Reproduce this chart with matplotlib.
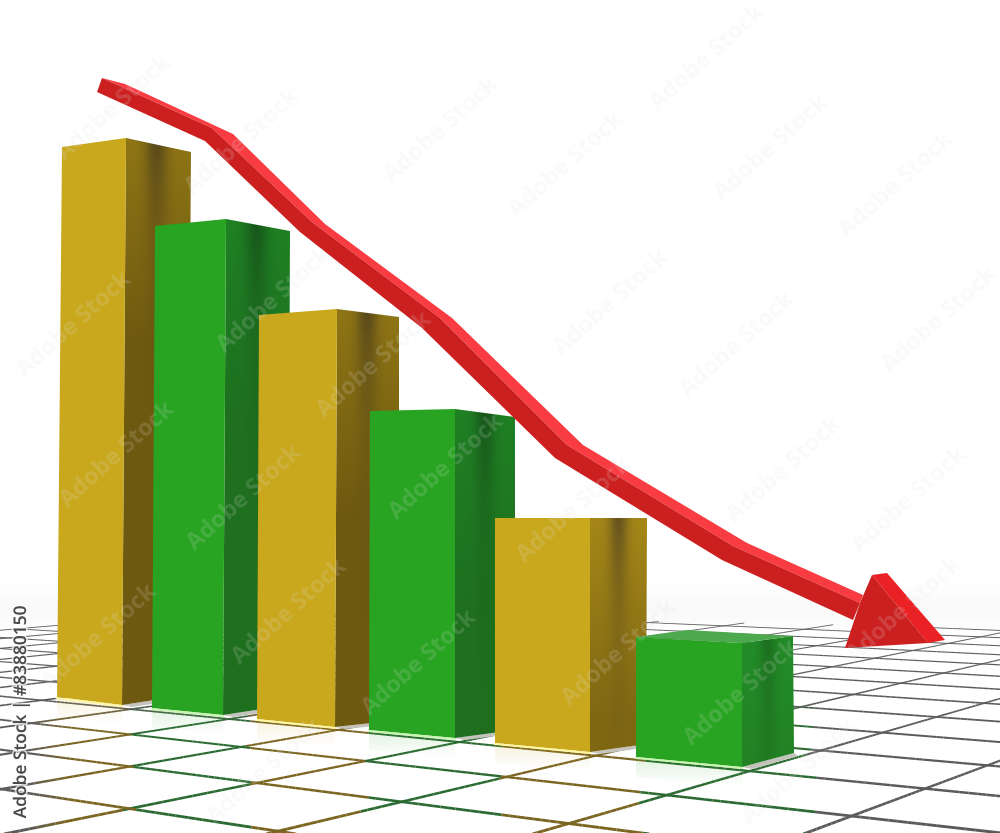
import matplotlib
matplotlib.use("Agg")
import matplotlib.pyplot as plt
import matplotlib.patheffects as pe
from matplotlib.collections import LineCollection
from matplotlib.colors import to_rgb
from matplotlib.patches import Polygon
import numpy as np

# values (pixels)
bar_heights = [567, 496, 418, 329, 234, 124]
bar_kinds = ["y", "g", "y", "g", "y", "g"]

# red arrow, upper edge / edge between faces / lower edge
arrow_top_x = [102, 125, 233, 325, 452, 583, 747, 863]
arrow_top_y = [78, 84, 134, 224, 318, 445, 543, 595]
arrow_mid_x = [102, 212, 312, 440, 567, 733, 860]
arrow_mid_y = [78, 128, 222, 318, 445, 546, 603]
arrow_low_x = [97, 205, 300, 422, 555, 722, 853]
arrow_low_y = [92, 141, 232, 328, 458, 560, 620]

# layout of the boxes
corner_x = [122, 223, 335, 455, 590, 742]
corner_y = [705, 715, 727, 738, 752, 767]
corner_lean = [4, 3, 2, 0, 0, 0]
left_base_x = [57, 152, 257, 369, 495, 636]
left_base_y = [697, 708, 719, 730, 743, 757]
left_top_x = [62, 155, 259, 370, 495, 636]
left_top_y = [147, 226, 315, 411, 518, 637]
right_top_x = [191, 290, 399, 515, 647, 793]
right_top_y = [152, 231, 317, 417, 518, 636]
right_base_x = [187, 288, 399, 515, 646, 794]
right_base_y = [695, 705, 720, 730, 744, 753]
side_gain = [1.0, 1.0, 1.0, 1.0, 1.15, 1.1]

front_col = {"y": "#c9a81e", "g": "#28a422"}
side_col = {"y": "#8f7515", "g": "#1f8024"}
band_col = {"y": "#57471a", "g": "#17541a"}
low_col = {"y": "#6f5a10", "g": "#1f701f"}
edge_col = {"y": "#fff6a0", "g": "#c8f5b0"}

# floor grid crossings: (line a, line b) -> pixel
grid_a = [1, 2, 2, 3, 2, 3, 3, 4, 4, 5, 4, 5, 4, 4]
grid_b = [1, 1, 2, 2, 3, 3, 1, 1, 2, 1, 0, 0, -1, -2]
grid_x = [243, 363, 257, 405, 127, 280, 505, 667, 568, 852, 747, 925, 822, 883]
grid_y = [746, 761, 783, 802, 809, 832, 777, 795, 823, 815, 773, 788, 750, 733]

# stock watermark centres
mark_x = [708, 115, 243, 442, 567, 772, 897, 275, 612, 738, 940, 75, 375, 785, 910,
          118, 245, 447, 575, 290, 420, 100, 620, 742, 800, 265, 905]
mark_y = [58, 108, 142, 130, 165, 148, 185, 300, 303, 345, 320, 325, 365, 470, 500,
          455, 498, 467, 510, 612, 663, 637, 653, 693, 772, 772, 610]

W, H = 1000, 833
fig = plt.figure(figsize=(10, 8.33), dpi=100)
ax = fig.add_axes([0, 0, 1, 1])
ax.set_axis_off()


def fit_floor():
    rows = []
    for a, b, x, y in zip(grid_a, grid_b, grid_x, grid_y):
        rows.append([a, b, 1, 0, 0, 0, -x * a, -x * b, -x])
        rows.append([0, 0, 0, a, b, 1, -y * a, -y * b, -y])
    return np.linalg.svd(np.array(rows, float))[2][-1].reshape(3, 3)


floor = fit_floor()


def grid_colour(x, y):
    c = np.array(to_rgb("#5a5a5a"))
    if y < 700 or x < 30 or x > 810:
        return c
    t = min((y - 700) / 25, 1) * min((x - 30) / 40, 1)
    bands = [(130, "#7a6420"), (250, "#2a6a30"), (365, "#7a6420"),
             (500, "#2a6a30"), (640, "#7a6420"), (810, "#2a6a30")]
    for edge, col in bands:
        if x < edge:
            return c * (1 - t) + np.array(to_rgb(col)) * t


def add_grid_line(p, q):
    s = np.linspace(0, 1, 500)[:, None]
    pts = np.hstack([np.array(p) + (np.array(q) - np.array(p)) * s, np.ones((500, 1))])
    xyw = pts @ floor.T
    ok = xyw[:, 2] * np.sign(floor[2] @ [2, 2, 1]) > 0
    xs = xyw[:, 0] / xyw[:, 2]
    ys = xyw[:, 1] / xyw[:, 2]
    segs, cols, lws = [], [], []
    for i in range(499):
        if not (ok[i] and ok[i + 1]):
            continue
        if ys[i] < 608 + 0.02 * xs[i] or ys[i + 1] < 608 + 0.02 * xs[i + 1]:
            continue
        if abs(xs[i + 1] - xs[i]) > 60:
            continue
        segs.append([(xs[i], ys[i]), (xs[i + 1], ys[i + 1])])
        cols.append(grid_colour(xs[i], ys[i]))
        lws.append(0.5 + 1.6 * max(ys[i] - 610, 0) / 223)
    ax.add_collection(LineCollection(segs, colors=cols, linewidths=lws, zorder=1))


# haze along the far edge of the floor
haze = np.ones((60, 2, 4))
haze[:, :, :3] = 0.9
haze[:, :, 3] = (0.2 * np.exp(-((np.linspace(0, 1, 60) - 0.5) / 0.28) ** 2))[:, None]
ax.imshow(haze, extent=(0, W, 640, 580), aspect="auto", interpolation="bilinear", zorder=0)

for a in range(-8, 16):
    add_grid_line((a, -22), (a, 7))
for b in range(-22, 8):
    add_grid_line((-8, b), (15, b))


def shade(poly, img):
    xs = [p[0] for p in poly]
    ys = [p[1] for p in poly]
    im = ax.imshow(img, extent=(min(xs), max(xs), max(ys), min(ys)), aspect="auto",
                   interpolation="bilinear", zorder=3)
    im.set_clip_path(Polygon(poly, closed=True, transform=ax.transData))


def side_image(kind, height, dark, gain):
    t = np.linspace(0, 1, 60)[None, :]
    v = np.linspace(0, 1, 60)[:, None] * height
    base = np.array(to_rgb(side_col[kind]))
    low = np.array(to_rgb(low_col[kind]))
    band = np.array(to_rgb(band_col[kind]))
    # dark streak near the top of the side face, fading lower down
    k = np.exp(-((t - 0.5) / 0.17) ** 2) * np.exp(-v / 110) * dark
    fade = np.minimum(v / 200, 1)
    img = np.zeros((60, 60, 3))
    for c in range(3):
        col = base[c] * (1 - fade) + low[c] * fade
        img[:, :, c] = col * (1 - k) + band[c] * k
    return np.clip(img * gain, 0, 1)


for i in range(6):
    kind = bar_kinds[i]
    top_y = corner_y[i] - bar_heights[i]
    top_x = corner_x[i] + corner_lean[i]
    # grey contact shadow next to the side face
    ax.add_patch(Polygon([(corner_x[i], corner_y[i]), (right_base_x[i], right_base_y[i]),
                          (right_base_x[i] + 4, right_base_y[i] + 3),
                          (corner_x[i] + 10, corner_y[i] + 2)],
                         color="#c4c4bc", lw=0, zorder=2))
    # soft reflection under the front face
    refl = np.ones((20, 2, 4))
    refl[:, :, :3] = to_rgb(front_col[kind])
    refl[:, :, 3] = np.linspace(0.14, 0, 20)[:, None]
    shade([(left_base_x[i], left_base_y[i]), (corner_x[i], corner_y[i]),
           (corner_x[i], corner_y[i] + 20), (left_base_x[i], left_base_y[i] + 20)], refl)

    side = [(top_x, top_y), (right_top_x[i], right_top_y[i]),
            (right_base_x[i], right_base_y[i]), (corner_x[i], corner_y[i])]
    shade(side, side_image(kind, bar_heights[i], 0.95 if i < 5 else 0.6, side_gain[i]))
    front = [(left_top_x[i], left_top_y[i]), (top_x, top_y), (corner_x[i], corner_y[i]),
             (left_base_x[i], left_base_y[i])]
    ax.add_patch(Polygon(front, color=front_col[kind], lw=0, zorder=3))
    ax.plot([left_base_x[i], corner_x[i]], [left_base_y[i] + 1, corner_y[i] + 1],
            color=edge_col[kind], lw=1.4, zorder=3)
    back_x = left_top_x[i] + right_top_x[i] - top_x
    back_y = left_top_y[i] + right_top_y[i] - top_y
    if back_y < top_y:
        ax.add_patch(Polygon([(left_top_x[i], left_top_y[i]), (back_x, back_y),
                              (right_top_x[i], right_top_y[i]), (top_x, top_y)],
                             color="#4ca94e", lw=0, zorder=3))

# arrow
ax.add_patch(Polygon(list(zip(arrow_top_x, arrow_top_y)) + list(zip(arrow_mid_x, arrow_mid_y))[::-1],
                     color="#f83c42", lw=0, zorder=5))
ax.add_patch(Polygon(list(zip(arrow_mid_x, arrow_mid_y)) + list(zip(arrow_low_x, arrow_low_y))[::-1],
                     color="#cc2020", lw=0, zorder=5))
ax.add_patch(Polygon([(872, 575), (887, 573), (945, 640), (928, 643)], color="#ea2226", lw=0, zorder=6))
ax.add_patch(Polygon([(872, 575), (928, 643), (845, 648), (860, 603)], color="#cc2020", lw=0, zorder=6))

for wx, wy in zip(mark_x, mark_y):
    ax.text(wx, wy, "Adobe Stock", rotation=42, ha="center", va="center",
            fontsize=17, fontweight="bold", family="Open Sans",
            color="#e4e4e4", alpha=0.17, zorder=7)

ax.text(22, 712, "Adobe Stock | #83880150", rotation=90, ha="center", va="center",
        fontsize=12.5, family="Open Sans", fontweight="semibold", color="#4a4a4a", zorder=8,
        path_effects=[pe.withStroke(linewidth=2.5, foreground="#ffffffb0")])

ax.set_xlim(0, W)
ax.set_ylim(H, 0)
fig.savefig("out.png", dpi=100, facecolor="white")
